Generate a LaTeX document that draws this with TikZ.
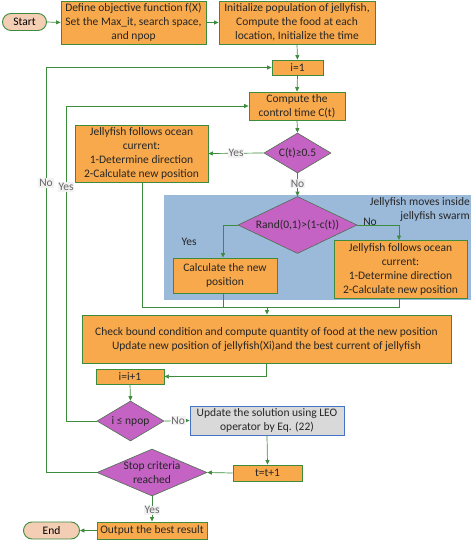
\documentclass[tikz,border=0pt]{standalone}
\usepackage{fontspec}
\setmainfont{Carlito}
\usetikzlibrary{shapes.geometric,shapes.misc,arrows.meta}
\definecolor{gborder}{HTML}{3C8C3C}
\definecolor{orfill}{HTML}{F8A94B}
\definecolor{purfill}{HTML}{C463C4}
\definecolor{panelblue}{HTML}{9BB9D9}
\definecolor{capfill}{HTML}{F4CDB5}
\definecolor{leofill}{HTML}{D9D9D9}
\definecolor{leoborder}{HTML}{4472C4}
\definecolor{lblgray}{HTML}{666666}
\definecolor{dmborder}{HTML}{4F6F4F}
\begin{document}
\begin{tikzpicture}[x=1pt,y=-1pt,
  font=\fontsize{11.5}{14}\selectfont,
  procbox/.style={draw=gborder,line width=0.9pt,fill=orfill,align=center,inner sep=0.5pt,text=black!85},
  decbox/.style={diamond,aspect=1.6,draw=dmborder,line width=0.6pt,fill=purfill,align=center,inner sep=0pt,text=black!85},
  capsule/.style={rounded rectangle,draw=gborder,line width=0.9pt,fill=capfill,minimum height=17pt,inner sep=0.5pt},
  conn/.style={draw=gborder,line width=0.7pt},
  arr/.style={conn,-{Triangle[length=4.5pt,width=4pt]}},
  lbl/.style={fill=black!5,text=lblgray,inner sep=0.8pt}
]
\useasboundingbox (0,0) rectangle (474,540);
% panel
\fill[panelblue] (164,195) rectangle (471,300);
\node[anchor=north east,align=right,inner sep=0pt,text=black!85] (paneltxt) at (470,197) {Jellyfish moves inside\\jellyfish swarm};

\node[capsule,minimum width=45pt] (start) at (24.5,22) {Start};
\node[procbox,minimum width=145pt,minimum height=43pt] (b1) at (133.5,22.5) {Define objective function f(X)\\Set the Max\_it, search space,\\and npop};
\node[procbox,minimum width=156pt,minimum height=43pt] (b2) at (297,22.5) {Initialize population of jellyfish,\\Compute the food at each\\location, Initialize the time};
\node[procbox,minimum width=51pt,minimum height=15pt] (i1) at (297.5,67.5) {i=1};
\node[procbox,minimum width=96pt,minimum height=28pt] (comp) at (297,106) {Compute the\\control time C(t)};
\node[decbox,minimum width=67pt,minimum height=40pt] (d1) at (297.5,153) {C(t)≥0.5};
\node[procbox,minimum width=133pt,minimum height=57pt] (jf1) at (141.5,153.5) {Jellyfish follows ocean\\current:\\1-Determine direction\\2-Calculate new position};
\node[decbox,minimum width=119pt,minimum height=57pt,aspect=2.1] (d2) at (297.5,225) {Rand(0,1)>(1-c(t))};
\node[procbox,minimum width=104pt,minimum height=35pt] (calc) at (225,275.5) {Calculate the new\\position};
\node[procbox,minimum width=133pt,minimum height=58pt] (jf2) at (400.5,269.5) {Jellyfish follows ocean\\current:\\1-Determine direction\\2-Calculate new position};
\node[procbox,minimum width=369pt,minimum height=48pt] (check) at (266.5,339) {Check bound condition and compute quantity of food at the new position\\Update new position of jellyfish(Xi)and the best current of jellyfish};
\node[procbox,minimum width=68pt,minimum height=15pt] (inc) at (130,376.5) {i=i+1};
\node[decbox,minimum width=67pt,minimum height=40pt] (d3) at (130.5,421) {i ≤ npop};
\node[draw=leoborder,line width=0.9pt,fill=leofill,align=center,inner sep=0.5pt,text=black!85,minimum width=154pt,minimum height=29pt] (leo) at (267,420.5) {Update the solution using LEO\\operator by Eq. (22)};
\node[procbox,minimum width=69pt,minimum height=16pt] (tt) at (267.5,473) {t=t+1};
\node[decbox,minimum width=110pt,minimum height=47pt,aspect=2.3] (d4) at (152,472.5) {Stop criteria\\reached};
\node[procbox,minimum width=110pt,minimum height=17pt] (out) at (152,530.5) {Output the best result};
\node[capsule,minimum width=57pt] (end) at (51.5,530.5) {End};

% connectors
\draw[arr] (start.east) -- (b1.west);
\draw[arr] (b1.east) -- (b2.west);
\draw[arr] (b2.south) -- (i1.north);
\draw[arr] (i1.south) -- (comp.north);
\draw[arr] (comp.south) -- (d1.north);
\draw[arr] (d1.west) -- node[lbl] (yes1) {Yes} (jf1.east);
\draw[arr] (d1.south) -- node[lbl,pos=0.45] (no1) {No} (d2.north);
\coordinate (cin) at (223,0);
\draw[arr] (d2.west) -| (calc.north -| cin);
\node[text=black!85,inner sep=0pt] (yes2) at (189,242) {Yes};
\coordinate (jin) at (399,0);
\draw[arr] (d2.east) -| (jf2.north -| jin);
\node[text=black!85,inner sep=0pt] (no2) at (370,222) {No};
\coordinate (ml) at (142,307);
\coordinate (mr) at (399,307);
\coordinate (mc) at (223,307);
\coordinate (mm) at (267,307);
\draw[conn] (jf1.south -| ml) -- (ml) -- (mr) -- (jf2.south -| mr);
\draw[conn] (calc.south -| mc) -- (mc);
\draw[arr] (mm) -- (check.north -| mm);
\draw[arr] (check.south) |- (inc.east);
\draw[arr] (inc.south) -- (d3.north);
\coordinate (yx) at (66,0);
\draw[arr] (d3.west) -| (yx |- comp.west) -- (comp.west);
\node[lbl] (yes3) at (66,187) {Yes};
\draw[arr] (d3.east) -- node[lbl,pos=0.55] (no3) {No} (leo.west);
\draw[arr] (leo.south) -- (tt.north);
\draw[arr] (tt.west) -- (d4.east);
\coordinate (nx) at (46,0);
\draw[arr] (d4.west) -| (nx |- i1.west) -- (i1.west);
\node[lbl] (no4) at (46,183) {No};
\draw[arr] (d4.south) -- node[lbl,pos=0.55] (yes4) {Yes} (out.north);
\draw[arr] (out.west) -- (end.east);
\end{tikzpicture}
\end{document}
